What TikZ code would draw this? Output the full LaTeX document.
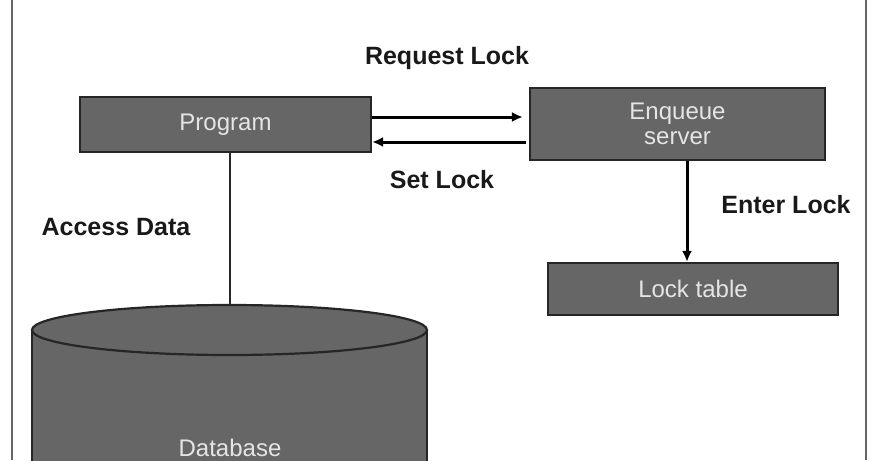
\documentclass[tikz,border=0pt]{standalone}
\usetikzlibrary{arrows.meta}
\usepackage{fontspec}
\setmainfont{Liberation Sans}
\begin{document}
\begin{tikzpicture}[x=1pt,y=-1pt,
  box/.style={draw=black!85,line width=2.2pt,fill=black!60,text=black!10,font=\fontsize{24}{25}\selectfont,align=center,inner sep=0pt},
  lbl/.style={font=\bfseries\fontsize{25}{27}\selectfont,text=black!90},
  arr/.style={line width=3pt,-{Latex[length=11pt,width=10pt]}}]
\useasboundingbox (0,0) rectangle (877,460);
\draw[black!60,line width=1.5pt] (12,0) -- (12,460) (866,0) -- (866,460);
\node[box,minimum width=291pt,minimum height=55pt] (prog) at (225.5,124.5) {Program};
\node[box,minimum width=295pt,minimum height=72pt] (enq) at (677.5,124) {Enqueue\\server};
\node[box,minimum width=290pt,minimum height=52pt] (lock) at (693,289) {Lock table};
% cylinder
\fill[black!60] (32,330) rectangle (427,461);
\draw[black!85,line width=2.2pt] (32,461) -- (32,330) (427,330) -- (427,461);
\draw[black!85,line width=2.2pt,fill=black!60] (229.5,330) ellipse[x radius=197.5,y radius=25];
\coordinate (dbtop) at (230,305);
\node[text=black!10,font=\fontsize{24}{25}\selectfont] (db) at (230,448) {Database};
\draw[black!85,line width=2.2pt] (prog.south -| dbtop) -- (dbtop);
\draw[arr] ([yshift=7.5pt]prog.east) -- ([xshift=-6pt,yshift=7pt]enq.west);
\draw[arr] ([xshift=-3pt,yshift=-18pt]enq.west) -- ([yshift=-17.5pt]prog.east);
\draw[arr] (enq.south -| 687,0) -- (lock.north -| 687,0);
\node[lbl] (rl) at (447,58) {Request Lock};
\node[lbl] (sl) at (442,180) {Set Lock};
\node[lbl] (el) at (786,205) {Enter Lock};
\node[lbl] (ad) at (116,227) {Access Data};
\end{tikzpicture}
\end{document}
